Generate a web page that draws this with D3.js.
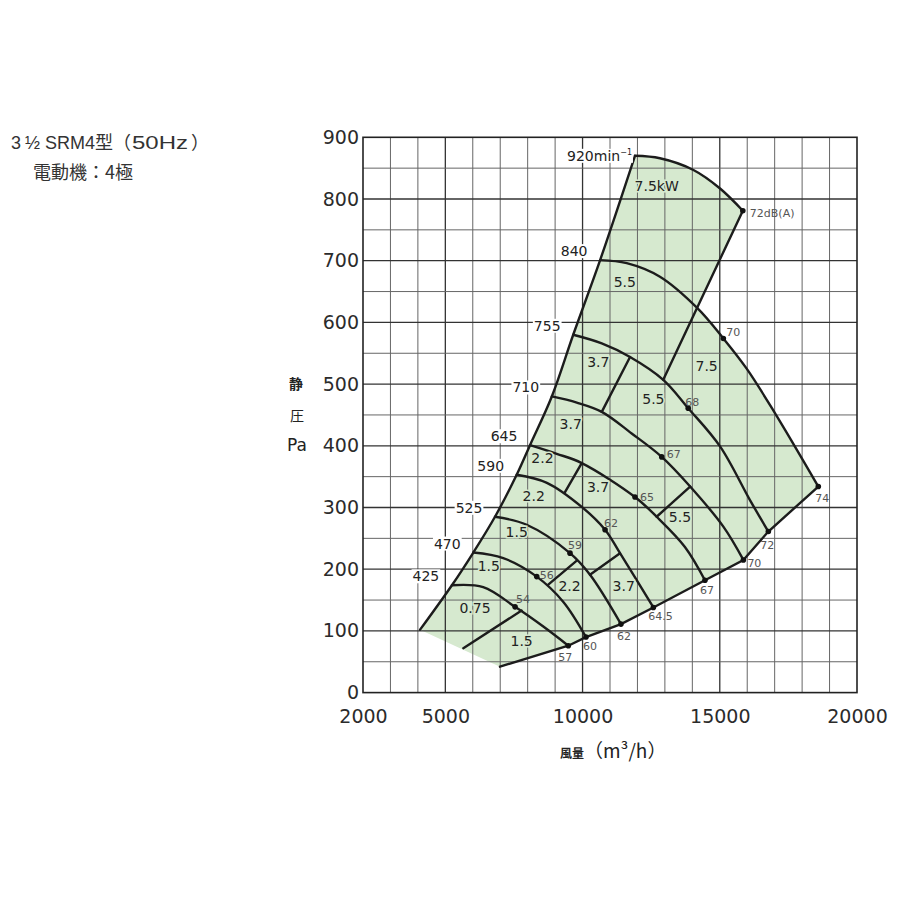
<!DOCTYPE html>
<html lang="ja">
<head>
<meta charset="UTF-8">
<title>3 ½ SRM4型（50Hz）</title>
<style>
  body { margin: 0; background: #fff; }
  svg { display: block; }
</style>
</head>
<body>
<div id="chart"></div>
<script src="https://cdn.jsdelivr.net/npm/d3@7"></script>
<script>
// fan speed curves: [air volume m3/h, static pressure Pa], first point sits on the surge line
const c425 = [[5240, 174], [6380, 171], [7540, 139], [8570, 107], [9480, 76]];
const c470 = [[6020, 227], [7110, 218], [8330, 188], [9300, 147], [10125, 90]];
const c525 = [[6810, 285], [7965, 272], [9543, 226], [10272, 191], [11400, 111]];
const c590 = [[7600, 353], [8700, 340], [9970, 301], [10820, 264], [11365, 226], [12580, 138]];
const c645 = [[8085, 401], [9060, 387], [9970, 372], [11910, 317], [12700, 285], [13730, 236], [14460, 182]];
const c710 = [[8880, 480], [9790, 470], [10700, 455], [11790, 420], [12885, 382], [13920, 334], [15130, 269], [15860, 215]];
const c755 = [[9660, 580], [10700, 566], [11730, 544], [12940, 507], [13850, 461], [15010, 399], [16100, 312], [16770, 261]];
const c840 = [[10640, 701], [11610, 696], [12820, 674], [14185, 623], [15130, 574], [15980, 525], [17010, 453], [18590, 334]];
const c920 = [[11910, 870], [12820, 866], [14040, 847], [15010, 817], [15840, 781]];
const speeds = [425, 470, 525, 590, 645, 710, 755, 840, 920];

const surgeBottom = [4080, 102];
// right-hand limit line joining the curve ends
const lowerEdge = [[6990, 42], [9480, 76], [10125, 90], [11400, 111], [12580, 138], [14460, 182], [15860, 215], [16770, 261], [18590, 334]];
const endNoise = ["57", "60", "62", "64.5", "67", "70", "72", "74"];

// motor power borders between curves
const powerLines = [
  [[5655, 72], [7780, 133]],
  [[8750, 175], [9790, 214]],
  [[10270, 191], [11365, 226]],
  [[9360, 325], [9970, 372]],
  [[12700, 285], [13920, 334]],
  [[10700, 455], [11730, 544]],
  [[15840, 781], [12940, 507]]
];

const kwText = ["0.75", "1.5", "1.5", "1.5", "2.2", "2.2", "3.7", "2.2", "3.7", "3.7", "5.5", "3.7", "5.5", "5.5", "7.5", "7.5kW"];
const kwAt = [[6080, 137], [7780, 84], [6585, 206], [7600, 261], [9525, 173], [8220, 318], [11500, 173], [8540, 380], [10565, 334],
              [9570, 436], [13550, 284], [10575, 536], [12580, 476], [11540, 665], [14520, 530], [12700, 821]];

const noiseText = ["54", "56", "59", "62", "65", "67", "68", "70", "72dB(A)"];
const noiseAt = [[7540, 139], [8330, 188], [9543, 226], [10820, 264], [11910, 317], [12885, 382], [13850, 461], [15130, 574], [15840, 781]];

const xTicks = [2000, 5000, 10000, 15000, 20000];
const yTicks = [0, 100, 200, 300, 400, 500, 600, 700, 800, 900];

// label nudges in px (text start, baseline) relative to the dot
const noiseNudge = [[1, -4], [3, 2], [-2, -4], [-1, -3], [5, 4], [5, 1.5], [-3, -2], [3, -2], [7, 6]];
const endNudge = [[-10, 15], [-3, 13], [-4, 16], [-5, 13], [-5, 14], [4, 7], [-8, 17], [-3, 15]];

const curves = [c425, c470, c525, c590, c645, c710, c755, c840, c920];

const margin = { top: 137.3, left: 363 };
const width = 494, height = 555.3;
const fillGreen = "#d6e9cf";
const ink = "#1c1c1c";

const svg = d3.select("#chart").append("svg")
    .attr("width", 900).attr("height", 900);
const g = svg.append("g")
    .attr("transform", `translate(${margin.left},${margin.top})`);

const x = d3.scaleLinear().domain([2000, 20000]).range([0, width]);
const y = d3.scaleLinear().domain([0, 900]).range([height, 0]);

const smooth = d3.line().x(d => x(d[0])).y(d => y(d[1])).curve(d3.curveCatmullRom);
const straight = d3.line().x(d => x(d[0])).y(d => y(d[1]));
const surge = [surgeBottom].concat(curves.map(c => c[0]));

// shaded operating area
const joinPaths = parts => parts.map((p, i) => i ? p.replace(/^M/, "L") : p).join("") + "Z";
g.append("path")
    .attr("d", joinPaths([
        smooth(surge),
        smooth(c920),
        straight([c920[c920.length - 1], c840[3]]),
        smooth(c840.slice(3)),
        straight(lowerEdge.slice().reverse()),
        straight([lowerEdge[0], surgeBottom])
    ]))
    .attr("fill", fillGreen);

// grid
const grid = g.append("g");
d3.range(3000, 20000, 1000).forEach(v => {
    const major = v % 5000 === 0;
    grid.append("line")
        .attr("x1", x(v)).attr("x2", x(v)).attr("y1", 0).attr("y2", height)
        .attr("stroke", major ? "#333" : "#666")
        .attr("stroke-width", major ? 1.3 : 1);
});
d3.range(50, 900, 50).forEach(v => {
    const major = v % 100 === 0;
    grid.append("line")
        .attr("y1", y(v)).attr("y2", y(v)).attr("x1", 0).attr("x2", width)
        .attr("stroke", major ? "#333" : "#666")
        .attr("stroke-width", major ? 1.3 : 1);
});
g.append("rect")
    .attr("width", width).attr("height", height)
    .attr("fill", "none").attr("stroke", "#222").attr("stroke-width", 1.6);

// axes
const yAxis = g.append("g")
    .call(d3.axisLeft(y).tickValues(yTicks).tickSize(0).tickPadding(4).tickFormat(d => d));
const xAxis = g.append("g")
    .attr("transform", `translate(0,${height})`)
    .call(d3.axisBottom(x).tickValues(xTicks).tickSize(0).tickPadding(17).tickFormat(d => d));
[yAxis, xAxis].forEach(a => {
    a.select(".domain").remove();
    a.selectAll("text")
        .attr("font-family", "DejaVu Sans")
        .attr("font-size", 19)
        .attr("fill", "#2b2b2b");
});

// curves and borders
const lines = g.append("g")
    .attr("fill", "none").attr("stroke", ink)
    .attr("stroke-width", 2.4).attr("stroke-linecap", "round");
lines.append("path").attr("d", smooth(surge));
curves.forEach(c => lines.append("path").attr("d", smooth(c)));
powerLines.forEach(p => lines.append("path").attr("d", straight(p)));
lines.append("path").attr("d", straight(lowerEdge));

// noise points
g.selectAll(".dot")
    .data(noiseAt.concat(lowerEdge.slice(1)))
    .enter().append("circle")
    .attr("class", "dot")
    .attr("cx", d => x(d[0])).attr("cy", d => y(d[1]))
    .attr("r", 2.8).attr("fill", "#111");

const small = g.append("g")
    .attr("font-family", "DejaVu Sans").attr("font-size", 11).attr("fill", "#555");
noiseText.forEach((t, i) => {
    small.append("text")
        .attr("x", x(noiseAt[i][0]) + noiseNudge[i][0])
        .attr("y", y(noiseAt[i][1]) + noiseNudge[i][1])
        .text(t);
});
endNoise.forEach((t, i) => {
    const p = lowerEdge[i + 1];
    small.append("text")
        .attr("x", x(p[0]) + endNudge[i][0])
        .attr("y", y(p[1]) + endNudge[i][1])
        .text(t);
});

// kW labels
g.append("g")
    .attr("font-family", "DejaVu Sans").attr("font-size", 14).attr("fill", "#222")
    .attr("text-anchor", "middle")
    .selectAll("text")
    .data(kwText)
    .enter().append("text")
    .attr("x", (d, i) => x(kwAt[i][0]))
    .attr("y", (d, i) => y(kwAt[i][1]))
    .attr("dy", "0.36em")
    .attr("stroke", fillGreen).attr("stroke-width", 3).attr("paint-order", "stroke")
    .text(d => d);

// speed labels on white boxes
function boxed(text) {
    const b = text.node().getBBox();
    text.node().parentNode.insertBefore(
        d3.create("svg:rect")
            .attr("x", b.x - 1).attr("y", b.y + 1)
            .attr("width", b.width + 2).attr("height", b.height - 2)
            .attr("fill", "#fff").node(),
        text.node());
}
const speedG = g.append("g")
    .attr("font-family", "DejaVu Sans").attr("font-size", 14).attr("fill", "#222");
speeds.forEach((s, i) => {
    const p = curves[i][0];
    let t;
    if (s === 920) {
        t = speedG.append("text")
            .attr("x", x(p[0]) - 3).attr("y", y(p[1]) + 5)
            .attr("text-anchor", "end");
        t.append("tspan").text(s + "min");
        t.append("tspan").attr("font-size", 8).attr("dy", -6).text("−1");
    } else {
        t = speedG.append("text")
            .attr("x", x(p[0]) - 26).attr("y", y(p[1]) - 9)
            .attr("dy", "0.36em")
            .attr("text-anchor", "middle")
            .text(s);
    }
    boxed(t);
});

// titles
const jp = "'Noto Sans CJK JP', 'Noto Sans', sans-serif";
const latinJp = "'Liberation Sans', 'Noto Sans CJK JP', sans-serif";
const title = svg.append("text")
    .attr("y", 149)
    .attr("font-family", latinJp).attr("font-size", 18).attr("fill", "#333");
title.append("tspan").attr("x", 11).text("3");
title.append("tspan").attr("x", 25).text("½");
title.append("tspan").attr("x", 45).text("SRM4型");
title.append("tspan").attr("x", 113).text("（");
title.append("tspan").attr("x", 132).attr("textLength", 56).attr("lengthAdjust", "spacingAndGlyphs").text("50Hz");
title.append("tspan").attr("x", 191).text("）");
svg.append("text")
    .attr("x", 33).attr("y", 179)
    .attr("font-family", jp).attr("font-size", 18).attr("fill", "#333")
    .text("電動機：4極");

const yTitle = svg.append("g").attr("text-anchor", "middle").attr("fill", "#222");
yTitle.append("text").attr("x", 296).attr("y", 389)
    .attr("font-family", jp).attr("font-size", 14).attr("font-weight", "bold").text("静");
yTitle.append("text").attr("x", 297).attr("y", 421)
    .attr("font-family", jp).attr("font-size", 14).text("圧");
yTitle.append("text").attr("x", 297).attr("y", 451)
    .attr("font-family", "DejaVu Sans").attr("font-size", 17).text("Pa");

const xTitle = svg.append("text").attr("x", 560).attr("y", 758).attr("fill", "#222");
xTitle.append("tspan").attr("font-family", jp).attr("font-size", 12).attr("font-weight", "bold").text("風量");
xTitle.append("tspan").attr("font-family", jp).attr("font-size", 19).text("（m³/h）");
</script>
</body>
</html>
